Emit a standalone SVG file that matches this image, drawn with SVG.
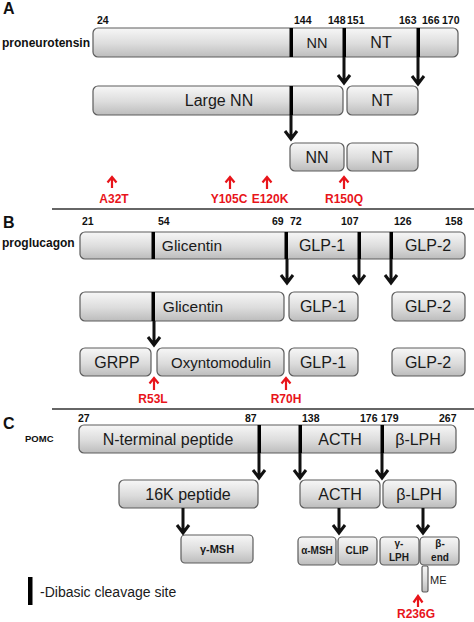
<svg xmlns="http://www.w3.org/2000/svg" width="474" height="622" viewBox="0 0 474 622">
<defs>
<linearGradient id="g" x1="0" y1="0" x2="0" y2="1">
<stop offset="0" stop-color="#f7f7f7"/>
<stop offset="0.55" stop-color="#dcdcdc"/>
<stop offset="1" stop-color="#bcbcbc"/>
</linearGradient>
<style>
.box{fill:url(#g);stroke:#5c5c5c;stroke-width:1.2}
.bar{fill:#000}
.lbl{font-family:"Liberation Sans",Arial,sans-serif;font-size:16px;fill:#1a1a1a;text-anchor:middle}
.sm{font-family:"Liberation Sans",Arial,sans-serif;font-size:10px;font-weight:bold;fill:#1a1a1a;text-anchor:middle}
.num{font-family:"Liberation Sans",Arial,sans-serif;font-size:10.5px;font-weight:bold;fill:#111}
.name{font-family:"Liberation Sans",Arial,sans-serif;font-size:12px;font-weight:bold;fill:#111}
.pan{font-family:"Liberation Sans",Arial,sans-serif;font-size:16px;font-weight:bold;fill:#111}
.mut{font-family:"Liberation Sans",Arial,sans-serif;font-size:12px;font-weight:bold;fill:#e8141a;text-anchor:middle}
.arr{stroke:#111;stroke-width:3;fill:none}
.rarr{stroke:#e8141a;stroke-width:2.2;fill:none}
.sep{stroke:#333;stroke-width:1.5}
</style>
</defs>

<!-- Panel A -->
<g id="panelA">
<text class="pan" x="3" y="14">A</text>
<text class="name" x="2" y="47">proneurotensin</text>
<text class="num" x="97" y="24">24</text>
<text class="num" x="294" y="24">144</text>
<text class="num" x="328" y="24">148</text>
<text class="num" x="347" y="24">151</text>
<text class="num" x="399" y="24">163</text>
<text class="num" x="422" y="24">166</text>
<text class="num" x="442" y="24">170</text>
</g>
<g id="proneurotensin">
<rect class="box" x="93" y="28" width="365" height="29" rx="5"/>
<rect class="bar" x="289.5" y="28" width="3.5" height="29"/>
<rect class="bar" x="342.5" y="28" width="3.5" height="29"/>
<rect class="bar" x="416.5" y="28" width="3.5" height="29"/>
<text class="lbl" x="317" y="48" style="font-size:14.5px">NN</text>
<text class="lbl" x="381" y="48">NT</text>
</g>
<g id="largeNN">
<rect class="box" x="93" y="86" width="250" height="29" rx="5"/>
<rect class="bar" x="289.5" y="86" width="3.5" height="29"/>
<text class="lbl" x="219" y="106">Large NN</text>
</g>
<g id="NT_A2">
<rect class="box" x="347" y="86" width="71" height="29" rx="5"/>
<text class="lbl" x="382" y="106">NT</text>
</g>
<g id="NN_A3">
<rect class="box" x="290" y="143" width="54" height="28" rx="5"/>
<text class="lbl" x="317" y="163">NN</text>
</g>
<g id="NT_A3">
<rect class="box" x="347" y="143" width="71" height="28" rx="5"/>
<text class="lbl" x="382" y="163">NT</text>
</g>
<g id="mutA">
<text class="mut" x="114" y="203">A32T</text>
<text class="mut" x="229" y="203">Y105C</text>
<text class="mut" x="270" y="203">E120K</text>
<text class="mut" x="344" y="203">R150Q</text>
</g>

<!-- Panel B -->
<g id="panelB">
<text class="pan" x="3" y="228">B</text>
<text class="name" x="2" y="247">proglucagon</text>
<text class="num" x="82" y="225">21</text>
<text class="num" x="158" y="225">54</text>
<text class="num" x="272" y="225">69</text>
<text class="num" x="290" y="225">72</text>
<text class="num" x="341" y="225">107</text>
<text class="num" x="394" y="225">126</text>
<text class="num" x="445" y="225">158</text>
</g>
<g id="proglucagon">
<rect class="box" x="80" y="232" width="385" height="27" rx="5"/>
<rect class="bar" x="151.5" y="232" width="3.5" height="27"/>
<rect class="bar" x="284.5" y="232" width="3.5" height="27"/>
<rect class="bar" x="357.5" y="232" width="3.5" height="27"/>
<rect class="bar" x="389.5" y="232" width="3.5" height="27"/>
<text class="lbl" x="192" y="251" style="font-size:15.5px">Glicentin</text>
<text class="lbl" x="322" y="251">GLP-1</text>
<text class="lbl" x="428" y="251">GLP-2</text>
</g>
<g id="glicentin">
<rect class="box" x="80" y="292" width="204" height="29" rx="5"/>
<rect class="bar" x="151.5" y="292" width="3.5" height="29"/>
<text class="lbl" x="193" y="312" style="font-size:15.5px">Glicentin</text>
</g>
<g id="GLP1_B2">
<rect class="box" x="289" y="292" width="69" height="29" rx="5"/>
<text class="lbl" x="323" y="312">GLP-1</text>
</g>
<g id="GLP2_B2">
<rect class="box" x="392" y="292" width="73" height="29" rx="5"/>
<text class="lbl" x="428" y="312">GLP-2</text>
</g>
<g id="GRPP">
<rect class="box" x="80" y="348" width="71" height="28" rx="5"/>
<text class="lbl" x="117" y="368">GRPP</text>
</g>
<g id="oxyntomodulin">
<rect class="box" x="157" y="348" width="127" height="28" rx="5"/>
<text class="lbl" x="221" y="368" style="font-size:15px">Oxyntomodulin</text>
</g>
<g id="GLP1_B3">
<rect class="box" x="289" y="348" width="69" height="28" rx="5"/>
<text class="lbl" x="323" y="368">GLP-1</text>
</g>
<g id="GLP2_B3">
<rect class="box" x="392" y="348" width="73" height="28" rx="5"/>
<text class="lbl" x="428" y="368">GLP-2</text>
</g>
<g id="mutB">
<text class="mut" x="153" y="403">R53L</text>
<text class="mut" x="286" y="403">R70H</text>
</g>

<!-- Panel C -->
<g id="panelC">
<text class="pan" x="3" y="429">C</text>
<text class="name" x="25" y="442" style="font-size:9.5px">POMC</text>
<text class="num" x="78" y="422">27</text>
<text class="num" x="245" y="422">87</text>
<text class="num" x="302" y="422">138</text>
<text class="num" x="360" y="422">176</text>
<text class="num" x="381" y="422">179</text>
<text class="num" x="439" y="422">267</text>
</g>
<g id="POMC">
<rect class="box" x="79" y="425" width="377" height="28" rx="5"/>
<rect class="bar" x="257.5" y="425" width="3.5" height="28"/>
<rect class="bar" x="298.5" y="425" width="3.5" height="28"/>
<rect class="bar" x="380.5" y="425" width="3.5" height="28"/>
<text class="lbl" x="168" y="445">N-terminal peptide</text>
<text class="lbl" x="340" y="445">ACTH</text>
<text class="lbl" x="418" y="445">β-LPH</text>
</g>
<g id="p16K">
<rect class="box" x="119" y="480" width="139" height="28" rx="5"/>
<text class="lbl" x="188" y="500">16K peptide</text>
</g>
<g id="ACTH_C2">
<rect class="box" x="300" y="480" width="80" height="28" rx="5"/>
<text class="lbl" x="340" y="500">ACTH</text>
</g>
<g id="bLPH_C2">
<rect class="box" x="383" y="480" width="73" height="28" rx="5"/>
<text class="lbl" x="419" y="500">β-LPH</text>
</g>
<g id="gMSH">
<rect class="box" x="181" y="535" width="72" height="28" rx="4"/>
<text class="sm" x="217" y="553" style="font-size:11px">γ-MSH</text>
</g>
<g id="aMSH">
<rect class="box" x="298" y="537" width="38" height="28" rx="4"/>
<text class="sm" x="317" y="554">α-MSH</text>
</g>
<g id="CLIP">
<rect class="box" x="338" y="537" width="39" height="28" rx="4"/>
<text class="sm" x="357" y="554">CLIP</text>
</g>
<g id="gLPH">
<rect class="box" x="380" y="537" width="39" height="28" rx="4"/>
<text class="sm" x="399" y="547">γ-</text>
<text class="sm" x="399" y="561">LPH</text>
</g>
<g id="bend">
<rect class="box" x="420" y="537" width="39" height="28" rx="4"/>
<text class="sm" x="440" y="547">β-</text>
<text class="sm" x="440" y="561">end</text>
</g>
<g id="ME">
<rect class="box" x="422" y="566" width="6" height="26" rx="1.5"/>
<text x="430" y="584" style="font-family:'Liberation Sans',Arial,sans-serif;font-size:11px;fill:#1a1a1a">ME</text>
</g>
<g id="mutC">
<text class="mut" x="416" y="618">R236G</text>
</g>
<g id="legend">
<rect class="bar" x="28" y="577" width="4.5" height="28"/>
<text x="40" y="597" style="font-family:'Liberation Sans',Arial,sans-serif;font-size:14px;fill:#1a1a1a">-Dibasic cleavage site</text>
</g>

<!-- connectors -->
<g id="connectors">
<line class="sep" x1="52" y1="209" x2="474" y2="209"/>
<line class="sep" x1="52" y1="409" x2="474" y2="409"/>
<path class="arr" d="M344 57V83M338 75L344 83L350 75"/>
<path class="arr" d="M418 57V84M412 76L418 84L424 76"/>
<path class="arr" d="M291 115V139M285 131L291 139L297 131"/>
<path class="arr" d="M287 259V283M281 275L287 283L293 275"/>
<path class="arr" d="M359 259V283M353 275L359 283L365 275"/>
<path class="arr" d="M391 259V283M385 275L391 283L397 275"/>
<path class="arr" d="M154 321V345M148 337L154 345L160 337"/>
<path class="arr" d="M259 453V478M253 470L259 478L265 470"/>
<path class="arr" d="M300 453V478M294 470L300 478L306 470"/>
<path class="arr" d="M382 453V478M376 470L382 478L388 470"/>
<path class="arr" d="M183 508V533M177 525L183 533L189 525"/>
<path class="arr" d="M339 508V533M333 525L339 533L345 525"/>
<path class="arr" d="M423 508V533M417 525L423 533L429 525"/>
<path class="rarr" d="M112 188V178M107.5 182.5L112 177L116.5 182.5"/>
<path class="rarr" d="M230 189V178M225.5 182.5L230 177L234.5 182.5"/>
<path class="rarr" d="M267 189V178M262.5 182.5L267 177L271.5 182.5"/>
<path class="rarr" d="M344 189V178M339.5 182.5L344 177L348.5 182.5"/>
<path class="rarr" d="M154 390V379M149.5 383.5L154 378L158.5 383.5"/>
<path class="rarr" d="M286 390V379M281.5 383.5L286 378L290.5 383.5"/>
<path class="rarr" d="M418 607V597M413.5 602.5L418 596L422.5 602.5"/>
</g>
</svg>
